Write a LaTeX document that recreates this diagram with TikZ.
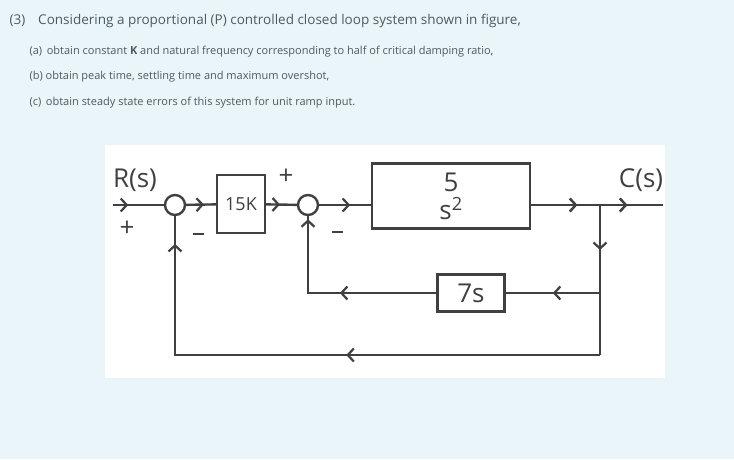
\documentclass[tikz,border=0pt]{standalone}
\usepackage{fontspec}
\setmainfont{Open Sans}
\usetikzlibrary{arrows.meta,decorations.markings}
\definecolor{bgblue}{HTML}{EAF5FA}
\definecolor{txt}{HTML}{4C5A62}
\definecolor{ln}{HTML}{404040}
\tikzset{
	line/.style={ln, line width=2.4pt},
	mid/.style={postaction={decorate}, decoration={markings, mark=at position #1 with {\arrow{Straight Barb[length=6pt,width=13pt,line width=2.2pt]}}}},
	sum/.style={draw=ln, line width=2.4pt, circle, minimum size=20pt, inner sep=0pt},
	blk/.style={draw=ln, line width=2.4pt, fill=white, inner sep=0pt},
	q/.style={anchor=west, text=txt, font=\fontsize{11}{13}\selectfont},
	lbl/.style={text=ln, inner sep=0pt, font=\fontsize{26}{28}\selectfont},
	minus/.style={fill=ln, inner sep=0pt, minimum width=11pt, minimum height=2.6pt}
}
\begin{document}
\begin{tikzpicture}[x=1pt, y=-1pt]
	\fill[bgblue] (0,0) rectangle (734,459);
	\fill[white] (105,145) rectangle (665,378);
	\useasboundingbox (0,0) rectangle (734,459);
	% question text
	\node[q, font=\fontsize{13.5}{15}\selectfont] (t0) at (6,21) {(3)\hspace{13pt}Considering a proportional (P) controlled closed loop system shown in figure,};
	\node[q] (ta) at (26,52) {(a)\, obtain constant \textbf{K} and natural frequency corresponding to half of critical damping ratio,};
	\node[q] (tb) at (26,77) {(b) obtain peak time, settling time and maximum overshot,};
	\node[q] (tc) at (26,103) {(c)\, obtain steady state errors of this system for unit ramp input.};
	% blocks
	\node[sum] (sum1) at (175,205) {};
	\node[sum] (sum2) at (308,205) {};
	\node[blk, minimum width=48pt, minimum height=58pt, font=\fontsize{18}{20}\selectfont, text=ln] (gain) at (241,204) {15K};
	\node[blk, minimum width=158pt, minimum height=65pt, align=center, font=\fontsize{26}{24}\selectfont, text=ln] (plant) at (451,196) {5\\[4pt]s\textsuperscript{2}};
	\node[blk, minimum width=67pt, minimum height=37pt, lbl] (deriv) at (471,293) {7s};
	\coordinate (in) at (113,205);
	\coordinate (out) at (663,205);
	\coordinate (br) at (600,205);
	\coordinate (bri) at (600,293);
	\coordinate (bro) at (600,355);
	% labels
	\node[lbl] (rs) at (135,180) {R(s)};
	\node[lbl] (cs) at (641,180) {C(s)};
	\node[lbl] (p1) at (127,229) {+};
	\node[minus] (m1) at (198,234) {};
	\node[lbl] (p2) at (286,177) {+};
	\node[minus] (m2) at (337,232) {};
	% forward path
	\draw[line, mid=0.3] (in) -- (sum1);
	\draw[line, mid=0.6] (sum1) -- (gain);
	\draw[line, mid=0.45] (gain) -- (sum2);
	\draw[line, mid=0.6] (sum2) -- (plant.west |- sum2);
	\draw[line, mid=0.35, mid=0.73] (plant.east |- br) -- (out);
	% feedback
	\draw[line, mid=0.3] (br) -- (bro);
	\draw[line, mid=0.5] (bri) -- (deriv);
	\draw[line, mid=0.47] (deriv) -| (sum2);
	\draw[line, mid=0.45] (bro) -| (sum1);
	\draw[line, mid=0.96] (sum2 |- bri) -- (sum2);
	\draw[line, mid=0.8] (sum1 |- bro) -- (sum1);
\end{tikzpicture}
\end{document}
